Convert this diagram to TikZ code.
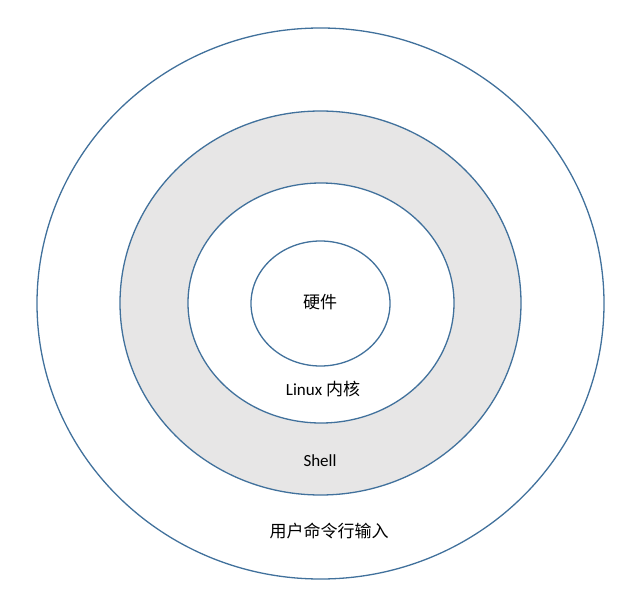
\documentclass[tikz,border=0pt]{standalone}
\usepackage{fontspec}
\setmainfont{Carlito}
\newfontfamily\cjk{Noto Sans CJK SC}
\definecolor{edge}{HTML}{41719C}
\definecolor{ring}{HTML}{E7E6E6}
\begin{document}
\begin{tikzpicture}[x=1pt,y=-1pt,
  ell/.style={draw=edge,line width=1.3pt},
  lbl/.style={font=\fontsize{17}{20}\selectfont}]
\useasboundingbox (0,0) rectangle (637,604);
\path[ell,fill=white] (320.5,303.5) ellipse [x radius=283.5,y radius=275.5];
\path[ell,fill=ring] (320.5,303) ellipse [x radius=200.5,y radius=192];
\path[ell,fill=white] (321,303) ellipse [x radius=133,y radius=120];
\path[ell,fill=white] (320.5,303.5) ellipse [x radius=69.5,y radius=62.5];
\node[lbl] (hw) at (320,302) {\cjk 硬件};
\node[lbl] (kern) at (323,389) {Linux {\cjk 内核}};
\node[lbl] (sh) at (320,461) {Shell};
\node[lbl] (cli) at (329,531) {\cjk 用户命令行输入};
\end{tikzpicture}
\end{document}
